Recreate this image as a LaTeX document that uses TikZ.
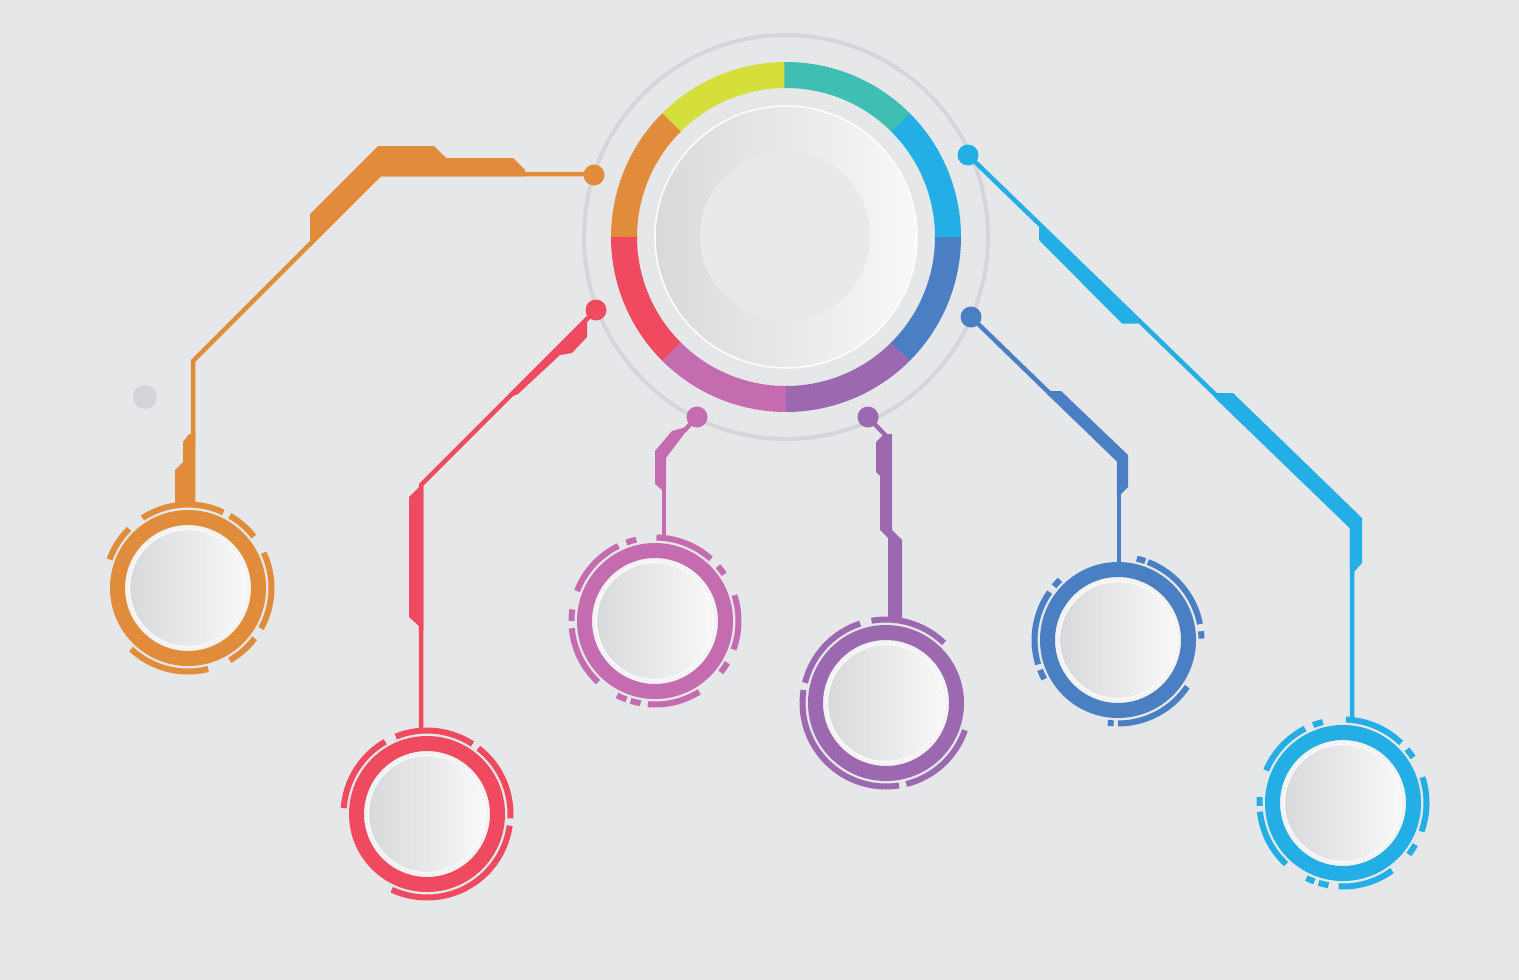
\documentclass[tikz,border=0pt]{standalone}
\definecolor{bg}{HTML}{E6E7E9}
\definecolor{ringgrey}{HTML}{D4D6D9}
\definecolor{greydot}{HTML}{D3D5D8}
\definecolor{cYel}{HTML}{D4DF3B}
\definecolor{cTea}{HTML}{3FBFB3}
\definecolor{cCya}{HTML}{23AEE6}
\definecolor{cSte}{HTML}{4A80C3}
\definecolor{cPur}{HTML}{9C69B1}
\definecolor{cPin}{HTML}{C56BAF}
\definecolor{cRed}{HTML}{EF4A5F}
\definecolor{cOra}{HTML}{E18C3B}
\definecolor{plL}{HTML}{D8D9DB}
\definecolor{plR}{HTML}{F8F8F8}
\definecolor{innerdisc}{HTML}{E8E9EA}
\tikzset{
  thinline/.style={line width=4.5pt, line cap=butt, line join=miter},
  dotnode/.style={circle, inner sep=0pt, minimum size=21pt},
  platenode/.style={circle, inner sep=0pt, minimum size=117pt},
  hubnode/.style={circle, inner sep=0pt, minimum size=262pt},
}
\newcommand\smallring[3]{%
  \fill[white!50!bg] (#1.center) circle[radius=63];
  \draw[#2, line width=15pt] (#1.center) circle[radius=70.5];
  \shade[left color=plL, right color=plR] (#1.center) circle[radius=58.5];
  \draw[white!85!bg, line width=1.2pt] (#1.center) circle[radius=58.5];
  \foreach \a/\b [evaluate=\a as \na using {0-(\a)}, evaluate=\b as \nb using {0-(\b)}] in {#3}
    \draw[#2, line width=6pt] ([shift={(#1.center)}]\na:83.5) arc[start angle=\na, end angle=\nb, radius=83.5];
}
\begin{document}
\begin{tikzpicture}[x=1pt,y=-1pt]
\fill[bg] (0,0) rectangle (1519,980);
\useasboundingbox (0,0) rectangle (1519,980);

% ---------- nodes ----------
\node[hubnode] (hub) at (786,237) {};
\node[platenode] (c1) at (188,588) {};
\node[platenode] (c2) at (427,814) {};
\node[platenode] (c3) at (655,621) {};
\node[platenode] (c4) at (886,703) {};
\node[platenode] (c5) at (1118,640) {};
\node[platenode] (c6) at (1343,803) {};

% ---------- hub ----------
\draw[ringgrey, line width=4pt] (hub.center) circle[radius=202];
\foreach \a/\c [evaluate=\a as \na using {0-(\a)}, evaluate=\a as \nb using {0-(\a)-45.6}] in {90/cYel,135/cOra,180/cRed,225/cPin,270/cPur,315/cSte,0/cCya,45/cTea}
  \draw[\c, line width=26pt] ([shift={(hub.center)}]\na:162) arc[start angle=\na, end angle=\nb, radius=162];
\shade[left color=plL, right color=plR] (hub.center) circle[radius=131];
\draw[white, line width=1.5pt] (hub.center) circle[radius=131];
\fill[innerdisc] (785,236) circle[radius=85];

% ---------- connectors ----------
% orange
\draw[cOra, thinline] (594,174) -- (380,174) -- (193,361) -- (193,445);
\fill[cOra] (310,247) -- (310,214) -- (378,146) -- (434,146) -- (446,158) -- (513,158) -- (525,170) -- (525,176.25) -- (381,176.25) -- cycle;
\fill[cOra] (183,442) -- (189,434) -- (195.25,434) -- (195.25,503) -- (175,503) -- (175,470) -- (183,462) -- cycle;
% red
\draw[cRed, thinline] (596,310) -- (421,485) -- (421,730);
\fill[cRed] (592,313) -- (587,321) -- (587,337) -- (572,353) -- (560,355) -- (518,394) -- (513,396) -- (508,395) -- (588,315) -- cycle;
\fill[cRed] (409,497) -- (421,485) -- (423.25,485) -- (423.25,630) -- (409,617) -- cycle;
% pink
\draw[cPin, thinline] (697,417) -- (684,431);
\fill[cPin] (672,431) -- (690,426) -- (666,458) -- (666,490) -- (662,490) -- (655,484) -- (655,451) -- cycle;
\draw[cPin, thinline] (664,486) -- (664,538);
% purple
\draw[cPur, thinline] (868,417) -- (887,437);
\fill[cPur] (876,442) -- (884,434) -- (892,434) -- (892,530) -- (902,540) -- (902,618) -- (888,618) -- (888,538) -- (880,530) -- (880,476) -- (876,472) -- cycle;
% steel blue
\draw[cSte, thinline] (971,317) -- (1118.5,460);
\fill[cSte] (1047,394) -- (1049,391) -- (1061,391) -- (1128,455) -- (1128,487) -- (1121,494) -- (1116.75,494) -- (1116.75,460) -- cycle;
\draw[cSte, thinline] (1119,490) -- (1119,566);
% cyan
\draw[cCya, thinline] (968,155) -- (1352,527) -- (1352,720);
\fill[cCya] (1039,222) -- (1141,320) -- (1137,323.5) -- (1122,323.5) -- (1039,240) -- cycle;
\fill[cCya] (1214,397) -- (1216,393) -- (1233,393) -- (1362,518) -- (1362,563) -- (1354,572) -- (1349.75,572) -- (1349.75,528) -- cycle;

% ---------- dots ----------
\node[dotnode, fill=cOra] (d1) at (594,175) {};
\node[dotnode, fill=cRed] (d2) at (596,310) {};
\node[dotnode, fill=cPin] (d3) at (697,417) {};
\node[dotnode, fill=cPur] (d4) at (868,417) {};
\node[dotnode, fill=cSte] (d5) at (971,317) {};
\node[dotnode, fill=cCya] (d6) at (968,155) {};
\node[circle, inner sep=0pt, minimum size=24pt, fill=greydot] (g) at (145,397) {};

% ---------- small rings ----------
\smallring{c1}{cOra}{65/123,38/60,-29/25,-60/-37,-133/-76,135/160}
\smallring{c2}{cRed}{57/112,-3/52,-115/-8,120/176}
\smallring{c3}{cPin}{48/89,34/41,-20/18,-38/-30,-95/-58,-107/-100,-117/-110,185/227,172/180,116/159,103/110}
\smallring{c4}{cPur}{46/100,108/166,171/279,-76/-19}
\smallring{c5}{cSte}{71/77,11/69,1/6,-90/-34,-97/-93,145/197,201/208,134/140}
\smallring{c6}{cCya}{46/88,33/40,-20/18,-38/-30,-93/-54,-107/-100,-116/-110,186/227,176/182,117/157,104/111}
\end{tikzpicture}
\end{document}
